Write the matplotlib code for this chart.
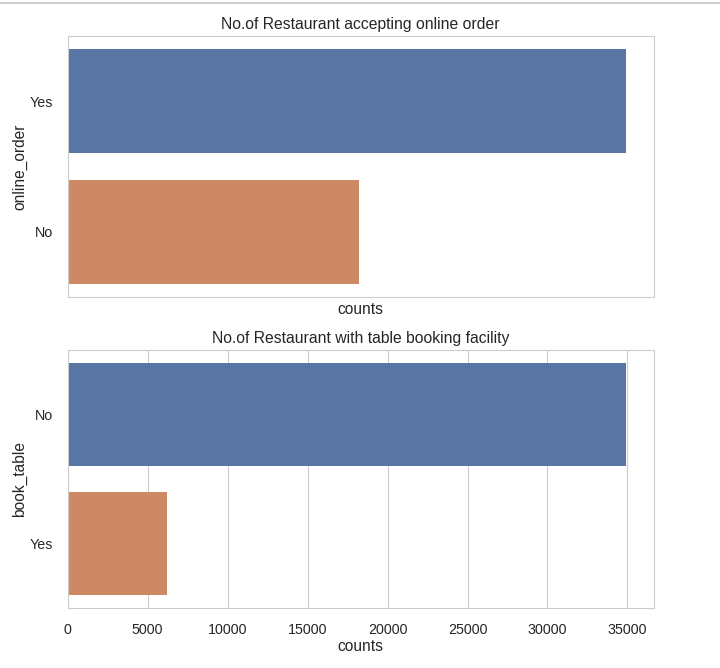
import matplotlib
matplotlib.use("Agg")
import matplotlib.pyplot as plt
import seaborn as sns
from matplotlib.lines import Line2D

sns.set_style("whitegrid")
plt.rcParams['font.family'] = ['Liberation Sans', 'DejaVu Sans']

online_cats = ["Yes", "No"]
online_counts = [34900, 18200]
book_cats = ["No", "Yes"]
book_counts = [34900, 6200]

palette = [sns.desaturate(c, 0.75) for c in sns.color_palette("deep")[:2]]

TICK_FS = 10.3
LABEL_FS = 11.2
TITLE_FS = 11.3

fig = plt.figure(figsize=(7.2, 6.68), dpi=100)
ax1 = fig.add_axes([0.094, 0.5554, 0.814, 0.3907])
ax2 = fig.add_axes([0.094, 0.0898, 0.814, 0.3862])

for ax, cats, vals, ylab, title in [
    (ax1, online_cats, online_counts, "online_order", "No.of Restaurant accepting online order"),
    (ax2, book_cats, book_counts, "book_table", "No.of Restaurant with table booking facility"),
]:
    ypos = list(range(len(cats)))
    ax.barh(ypos, vals, height=0.8, color=palette, linewidth=0)
    ax.set_yticks(ypos)
    ax.set_yticklabels(cats)
    ax.set_ylim(len(cats) - 0.5, -0.5)
    ax.set_xlim(0, max(vals) * 1.05)
    ax.set_ylabel(ylab, fontsize=LABEL_FS, color='.15', labelpad=1.5)
    ax.set_title(title, fontsize=TITLE_FS, color='.15', pad=5)
    ax.tick_params(axis='both', labelsize=TICK_FS, colors='.15', length=0)
    ax.tick_params(axis='y', pad=10.8)
    ax.tick_params(axis='x', pad=11)
    ax.grid(axis='y', visible=False)
    ax.set_axisbelow(True)

ax1.grid(False)
ax1.set_xticks([])
ax1.set_xlabel("counts", fontsize=LABEL_FS, color='.15', labelpad=3.5)
ax2.set_xticks(range(0, 35001, 5000))
ax2.set_xlim(0, max(book_counts) * 1.05)
ax2.set_xlabel("counts", fontsize=LABEL_FS, color='.15', labelpad=1)

fig.add_artist(Line2D([0, 1], [1 - 2.5 / 668, 1 - 2.5 / 668], transform=fig.transFigure,
                      color='#cccccc', linewidth=1.5))

fig.savefig("out.png", dpi=100, facecolor='white')
